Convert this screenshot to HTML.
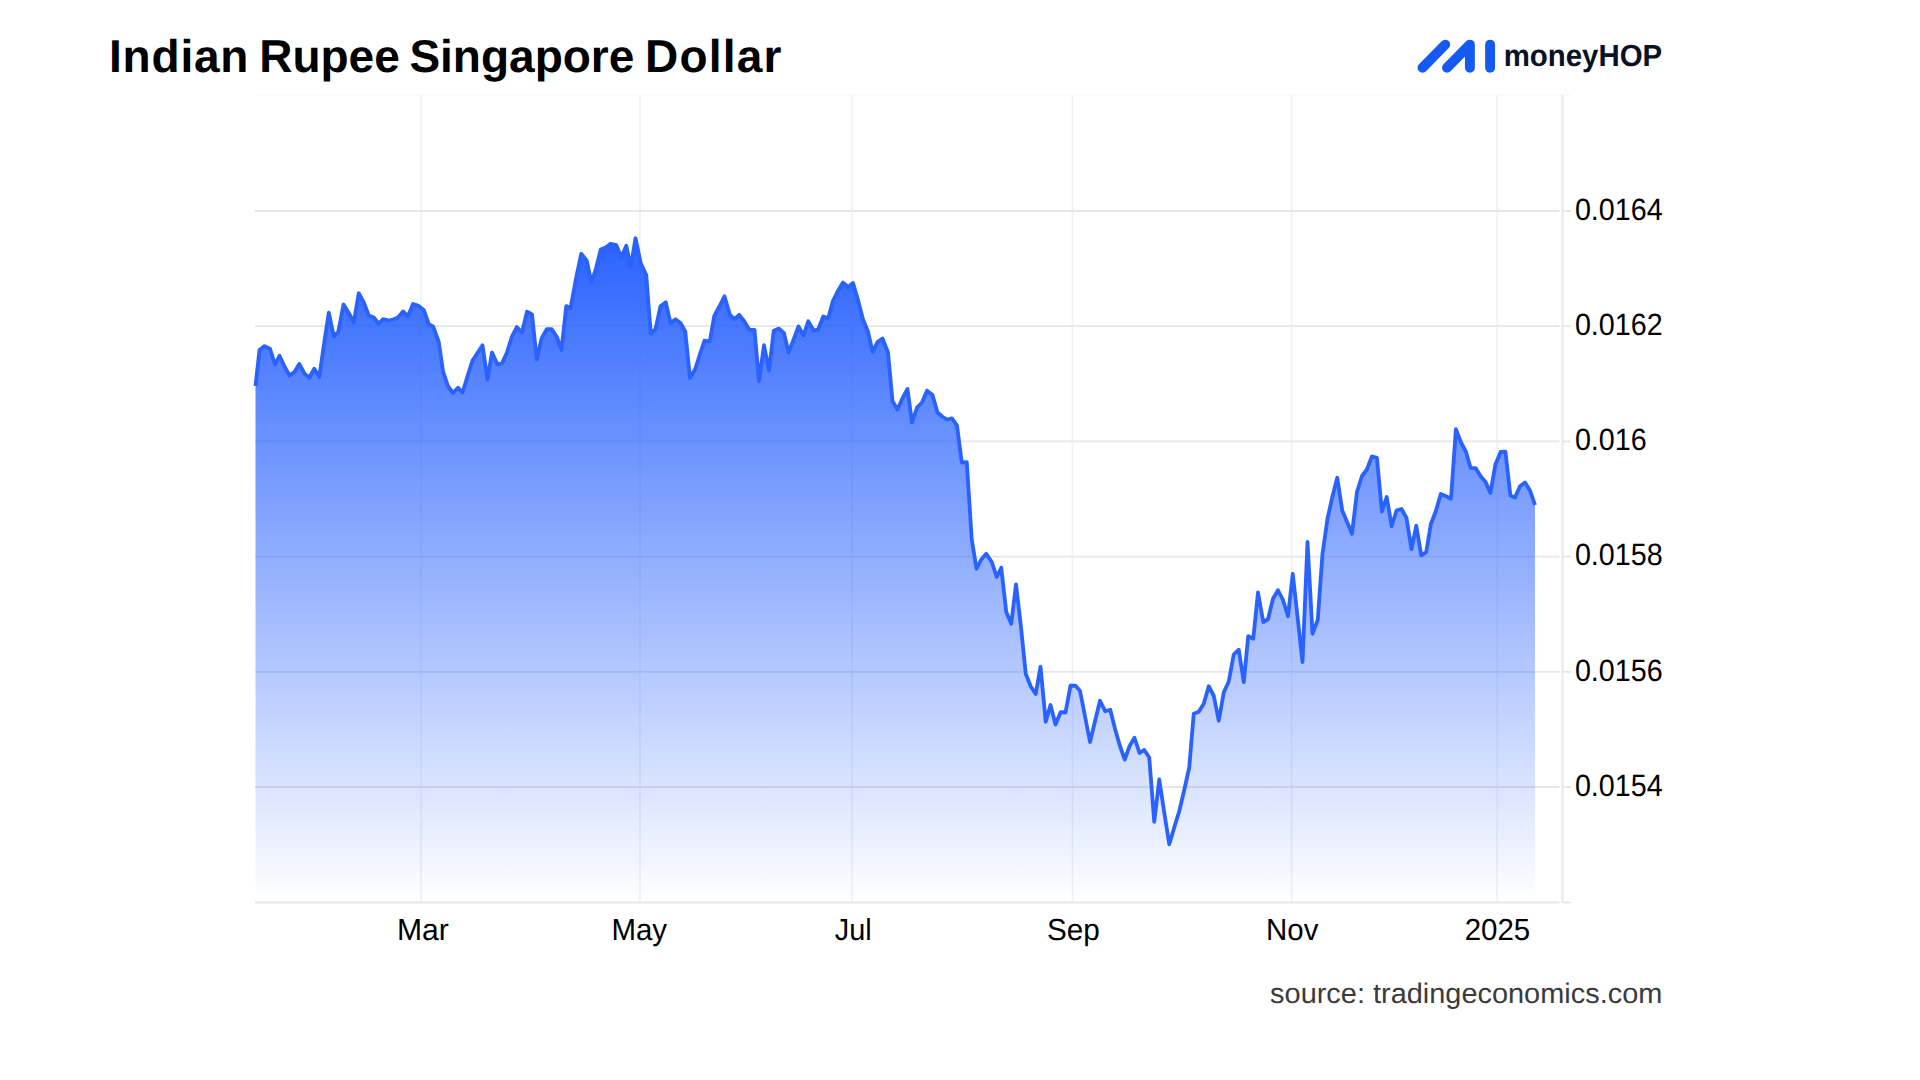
<!DOCTYPE html>
<html lang="en"><head><meta charset="utf-8"><title>Indian Rupee Singapore Dollar</title>
<style>
html,body{margin:0;padding:0;background:#fff;}
body{width:1920px;height:1080px;overflow:hidden;font-family:"Liberation Sans",Arial,sans-serif;}
svg{display:block;position:absolute;left:0;top:0;}
text{text-rendering:geometricPrecision;}
</style></head><body>
<svg width="1920" height="1080" viewBox="0 0 1920 1080">
<defs><linearGradient id="g" x1="0" y1="237" x2="0" y2="902" gradientUnits="userSpaceOnUse"><stop offset="0" stop-color="#2962ff" stop-opacity="1"/><stop offset="1" stop-color="#2962ff" stop-opacity="0"/></linearGradient></defs>
<line x1="421.2" y1="95" x2="421.2" y2="902" stroke="#ecf1f7" stroke-width="1.6"/>
<line x1="640" y1="95" x2="640" y2="902" stroke="#ecf1f7" stroke-width="1.6"/>
<line x1="851.8" y1="95" x2="851.8" y2="902" stroke="#ecf1f7" stroke-width="1.6"/>
<line x1="1072.5" y1="95" x2="1072.5" y2="902" stroke="#ecf1f7" stroke-width="1.6"/>
<line x1="1291.6" y1="95" x2="1291.6" y2="902" stroke="#ecf1f7" stroke-width="1.6"/>
<line x1="1497.2" y1="95" x2="1497.2" y2="902" stroke="#ecf1f7" stroke-width="1.6"/>
<line x1="255" y1="211" x2="1559.5" y2="211" stroke="#e6e6e6" stroke-width="1.8"/>
<line x1="1563" y1="211" x2="1571" y2="211" stroke="#e6e6e6" stroke-width="1.8"/>
<line x1="255" y1="326.2" x2="1559.5" y2="326.2" stroke="#e6e6e6" stroke-width="1.8"/>
<line x1="1563" y1="326.2" x2="1571" y2="326.2" stroke="#e6e6e6" stroke-width="1.8"/>
<line x1="255" y1="441.4" x2="1559.5" y2="441.4" stroke="#e6e6e6" stroke-width="1.8"/>
<line x1="1563" y1="441.4" x2="1571" y2="441.4" stroke="#e6e6e6" stroke-width="1.8"/>
<line x1="255" y1="556.6" x2="1559.5" y2="556.6" stroke="#e6e6e6" stroke-width="1.8"/>
<line x1="1563" y1="556.6" x2="1571" y2="556.6" stroke="#e6e6e6" stroke-width="1.8"/>
<line x1="255" y1="671.8" x2="1559.5" y2="671.8" stroke="#e6e6e6" stroke-width="1.8"/>
<line x1="1563" y1="671.8" x2="1571" y2="671.8" stroke="#e6e6e6" stroke-width="1.8"/>
<line x1="255" y1="787" x2="1559.5" y2="787" stroke="#e6e6e6" stroke-width="1.8"/>
<line x1="1563" y1="787" x2="1571" y2="787" stroke="#e6e6e6" stroke-width="1.8"/>
<line x1="255" y1="94.6" x2="1571" y2="94.6" stroke="#f8f8f8" stroke-width="1.2"/>
<line x1="255" y1="902.5" x2="1559.5" y2="902.5" stroke="#e6e6e6" stroke-width="1.8"/>
<line x1="1563" y1="902.5" x2="1571" y2="902.5" stroke="#e6e6e6" stroke-width="1.8"/>
<line x1="1562.5" y1="95" x2="1562.5" y2="903" stroke="#e6e6e6" stroke-width="1.8"/>
<path d="M255.5,386 L259.5,350 L264.5,346.12 L270,348.75 L275,364.5 L279.5,355.75 L285,367.5 L289.5,375.5 L294.5,372 L299.25,364 L304.5,373.75 L309.5,377.5 L314.25,368.75 L319.25,377 L324.25,342.5 L328.75,312.75 L333.75,336.25 L338.25,332 L343.5,304.5 L348.75,313 L353.75,322.5 L358.75,293.25 L363.75,302.5 L368.75,315.5 L373.75,317.5 L378.75,323.75 L383.25,319.19 L388.75,320.5 L393,319.5 L398,317.5 L403,311.44 L408,316.25 L413,303.97 L418,305.5 L423.75,310 L428.75,324.25 L433.25,326.75 L438.75,342 L443,371.25 L448,386.25 L453,393 L458,387.69 L462.5,392.5 L467.5,376.25 L472.5,360.5 L477.5,353 L482.5,345.25 L487.5,379.5 L492,352.5 L497.5,364.5 L502,363.25 L506.75,353 L511.75,337 L516.75,327 L522,332.5 L527,311.66 L532,314.5 L536.75,359.5 L541.75,338 L546.75,329.25 L551.75,329.25 L556.75,336.75 L561.5,350 L566.25,306.06 L570.5,308.25 L576.25,277.5 L581.25,253.75 L586.75,260.75 L591.25,282.5 L595.5,270.5 L600.75,249.5 L605.5,247.5 L610.5,243.91 L616.25,245 L621.25,257.5 L626.25,245.75 L630.75,267 L635.5,238.25 L640.75,263.25 L646.25,275 L650.75,333.75 L655.5,329.25 L660.5,306.25 L665.75,302.31 L670.5,323 L675.5,319.28 L680.5,323 L685.25,331.5 L690,378 L695.25,369 L700,354 L704.5,340.62 L709.75,341.5 L714.25,316 L719.5,306.25 L724.5,296.25 L730,315 L734.5,319.25 L739.25,314.88 L744.5,321.75 L749.5,330 L754.5,330 L759,381.25 L764,345.25 L769,370.5 L773.75,330.75 L779,328.56 L784,333.25 L788.5,352.5 L793.75,339.25 L798.5,326.5 L803.5,335.5 L808.25,321.25 L813.75,330.75 L818.25,329.25 L823.25,316.5 L828.25,318.25 L833,300.75 L838,290.75 L843,282.62 L848,287 L853,283.06 L858,300 L863,319.5 L868,331.75 L872.5,351.75 L877.5,342 L882.5,338.5 L888,352.5 L892.5,401.25 L897.5,409.5 L902.5,398.25 L907.5,389 L912,422.5 L917,407.5 L922,402.5 L927,390.62 L932.5,395 L937.5,412.5 L942.5,416.75 L947,419.5 L952,418.41 L957,425.5 L961.75,462.5 L966.75,462.06 L971.75,539.5 L976.5,568.75 L981.25,559.5 L986.25,553.75 L991.75,562 L996.75,577 L1001.25,567.75 L1006.25,612 L1011.25,623.75 L1016,584.5 L1020.75,625 L1025.75,673.75 L1030.75,686.5 L1035.75,694 L1040.5,666.75 L1045.75,721.75 L1050.5,705 L1055.5,724.5 L1060.75,712.06 L1065.5,712.5 L1070.5,685.53 L1075.5,685.75 L1080,690.75 L1085,716.25 L1090,742 L1095,721.25 L1100,700.75 L1105.25,711.25 L1110.25,709.72 L1115,728.75 L1120,746.25 L1124.75,759.5 L1129.5,746.25 L1134.5,737.75 L1139.5,753 L1144.25,749.94 L1149.25,757.5 L1154.25,821.75 L1159.25,779.5 L1164.25,812.5 L1169.25,844.25 L1174.25,827.5 L1179.25,811.25 L1184.25,790 L1189.25,767.5 L1193.75,713.75 L1198.75,711.75 L1203.75,703.75 L1208.75,686.25 L1213.75,695.75 L1218.75,720.75 L1223.75,692.5 L1228.75,681.5 L1233.75,654.5 L1238.75,649.69 L1243.75,682 L1248.25,636.12 L1253.25,638.75 L1258,592.5 L1263.25,622 L1268,619.25 L1273,598.75 L1278,590.25 L1283,600 L1288,616.25 L1292.75,574 L1297.75,618.75 L1302.5,662 L1307.5,542 L1312.5,633.75 L1317.75,620 L1322.5,553.75 L1327.5,518.75 L1332.5,496.25 L1337.25,477.75 L1342.25,510.5 L1347.25,522.5 L1352,533.75 L1357,491.75 L1362,476 L1366.9,469.5 L1371.9,456.44 L1376.9,457.75 L1381.9,511.5 L1386.7,497 L1391.7,526.25 L1396.5,510.5 L1401.5,508.97 L1406.5,518 L1411.5,549.2 L1416.3,525.75 L1421.25,555.4 L1426.25,552.1 L1430.8,524.2 L1435.8,511.25 L1440.8,494.06 L1446,496.25 L1451,498.75 L1455.9,429.25 L1461,442.5 L1466,451.9 L1470.6,468.1 L1475.6,468.1 L1480.6,476.25 L1485.6,481.9 L1490.4,493.1 L1495.4,464.4 L1500.6,451.9 L1505.4,451.55 L1510.4,495.6 L1515,497.5 L1520,486.25 L1525,482.44 L1530,490.6 L1535,505 L1535,902 L255.5,902 Z" fill="url(#g)"/>
<path d="M255.5,386 L259.5,350 L264.5,346.12 L270,348.75 L275,364.5 L279.5,355.75 L285,367.5 L289.5,375.5 L294.5,372 L299.25,364 L304.5,373.75 L309.5,377.5 L314.25,368.75 L319.25,377 L324.25,342.5 L328.75,312.75 L333.75,336.25 L338.25,332 L343.5,304.5 L348.75,313 L353.75,322.5 L358.75,293.25 L363.75,302.5 L368.75,315.5 L373.75,317.5 L378.75,323.75 L383.25,319.19 L388.75,320.5 L393,319.5 L398,317.5 L403,311.44 L408,316.25 L413,303.97 L418,305.5 L423.75,310 L428.75,324.25 L433.25,326.75 L438.75,342 L443,371.25 L448,386.25 L453,393 L458,387.69 L462.5,392.5 L467.5,376.25 L472.5,360.5 L477.5,353 L482.5,345.25 L487.5,379.5 L492,352.5 L497.5,364.5 L502,363.25 L506.75,353 L511.75,337 L516.75,327 L522,332.5 L527,311.66 L532,314.5 L536.75,359.5 L541.75,338 L546.75,329.25 L551.75,329.25 L556.75,336.75 L561.5,350 L566.25,306.06 L570.5,308.25 L576.25,277.5 L581.25,253.75 L586.75,260.75 L591.25,282.5 L595.5,270.5 L600.75,249.5 L605.5,247.5 L610.5,243.91 L616.25,245 L621.25,257.5 L626.25,245.75 L630.75,267 L635.5,238.25 L640.75,263.25 L646.25,275 L650.75,333.75 L655.5,329.25 L660.5,306.25 L665.75,302.31 L670.5,323 L675.5,319.28 L680.5,323 L685.25,331.5 L690,378 L695.25,369 L700,354 L704.5,340.62 L709.75,341.5 L714.25,316 L719.5,306.25 L724.5,296.25 L730,315 L734.5,319.25 L739.25,314.88 L744.5,321.75 L749.5,330 L754.5,330 L759,381.25 L764,345.25 L769,370.5 L773.75,330.75 L779,328.56 L784,333.25 L788.5,352.5 L793.75,339.25 L798.5,326.5 L803.5,335.5 L808.25,321.25 L813.75,330.75 L818.25,329.25 L823.25,316.5 L828.25,318.25 L833,300.75 L838,290.75 L843,282.62 L848,287 L853,283.06 L858,300 L863,319.5 L868,331.75 L872.5,351.75 L877.5,342 L882.5,338.5 L888,352.5 L892.5,401.25 L897.5,409.5 L902.5,398.25 L907.5,389 L912,422.5 L917,407.5 L922,402.5 L927,390.62 L932.5,395 L937.5,412.5 L942.5,416.75 L947,419.5 L952,418.41 L957,425.5 L961.75,462.5 L966.75,462.06 L971.75,539.5 L976.5,568.75 L981.25,559.5 L986.25,553.75 L991.75,562 L996.75,577 L1001.25,567.75 L1006.25,612 L1011.25,623.75 L1016,584.5 L1020.75,625 L1025.75,673.75 L1030.75,686.5 L1035.75,694 L1040.5,666.75 L1045.75,721.75 L1050.5,705 L1055.5,724.5 L1060.75,712.06 L1065.5,712.5 L1070.5,685.53 L1075.5,685.75 L1080,690.75 L1085,716.25 L1090,742 L1095,721.25 L1100,700.75 L1105.25,711.25 L1110.25,709.72 L1115,728.75 L1120,746.25 L1124.75,759.5 L1129.5,746.25 L1134.5,737.75 L1139.5,753 L1144.25,749.94 L1149.25,757.5 L1154.25,821.75 L1159.25,779.5 L1164.25,812.5 L1169.25,844.25 L1174.25,827.5 L1179.25,811.25 L1184.25,790 L1189.25,767.5 L1193.75,713.75 L1198.75,711.75 L1203.75,703.75 L1208.75,686.25 L1213.75,695.75 L1218.75,720.75 L1223.75,692.5 L1228.75,681.5 L1233.75,654.5 L1238.75,649.69 L1243.75,682 L1248.25,636.12 L1253.25,638.75 L1258,592.5 L1263.25,622 L1268,619.25 L1273,598.75 L1278,590.25 L1283,600 L1288,616.25 L1292.75,574 L1297.75,618.75 L1302.5,662 L1307.5,542 L1312.5,633.75 L1317.75,620 L1322.5,553.75 L1327.5,518.75 L1332.5,496.25 L1337.25,477.75 L1342.25,510.5 L1347.25,522.5 L1352,533.75 L1357,491.75 L1362,476 L1366.9,469.5 L1371.9,456.44 L1376.9,457.75 L1381.9,511.5 L1386.7,497 L1391.7,526.25 L1396.5,510.5 L1401.5,508.97 L1406.5,518 L1411.5,549.2 L1416.3,525.75 L1421.25,555.4 L1426.25,552.1 L1430.8,524.2 L1435.8,511.25 L1440.8,494.06 L1446,496.25 L1451,498.75 L1455.9,429.25 L1461,442.5 L1466,451.9 L1470.6,468.1 L1475.6,468.1 L1480.6,476.25 L1485.6,481.9 L1490.4,493.1 L1495.4,464.4 L1500.6,451.9 L1505.4,451.55 L1510.4,495.6 L1515,497.5 L1520,486.25 L1525,482.44 L1530,490.6 L1535,505" fill="none" stroke="#2962ff" stroke-width="3.8" stroke-linejoin="round" stroke-linecap="butt"/>
<g font-family="'Liberation Sans', Arial, sans-serif" fill="#000">
<text transform="translate(1574.9,219.7) scale(0.9320,1)" font-size="30.8">0.0164</text>
<text transform="translate(1574.9,334.9) scale(0.9320,1)" font-size="30.8">0.0162</text>
<text transform="translate(1574.9,450.1) scale(0.9320,1)" font-size="30.8">0.016</text>
<text transform="translate(1574.9,565.3) scale(0.9320,1)" font-size="30.8">0.0158</text>
<text transform="translate(1574.9,680.5) scale(0.9320,1)" font-size="30.8">0.0156</text>
<text transform="translate(1574.9,795.7) scale(0.9320,1)" font-size="30.8">0.0154</text>
<text transform="translate(396.9,940.4) scale(0.9909,1)" font-size="30.4">Mar</text>
<text transform="translate(611.4,940.4) scale(0.9696,1)" font-size="30.4">May</text>
<text transform="translate(834.7,940.4) scale(0.9504,1)" font-size="30.4">Jul</text>
<text transform="translate(1046.9,940.4) scale(0.9766,1)" font-size="30.4">Sep</text>
<text transform="translate(1266.1,940.4) scale(0.9675,1)" font-size="30.4">Nov</text>
<text transform="translate(1464.7,940.4) scale(0.9696,1)" font-size="30.4">2025</text>
</g>
<text transform="translate(1270.1,1003.3) scale(1.0187,1)" font-family="'Liberation Sans', Arial, sans-serif" font-size="28.4" fill="#3b3b3b">source: tradingeconomics.com</text>
<g fill="none" stroke="#145af1" stroke-width="9.9" stroke-linecap="round" stroke-linejoin="round"><path d="M1422.5,67.8 L1445.2,44.6"/><path d="M1447,67.8 L1469.9,44.6 L1469.9,67.8"/><path d="M1490.1,44.6 L1490.1,67.8"/></g>
<text y="71.5" font-family="'Liberation Sans', Arial, sans-serif" font-weight="700" font-size="46.0" fill="#000"><tspan x="109" letter-spacing="0.8">Indian</tspan> <tspan x="259.2" letter-spacing="0">Rupee</tspan> <tspan x="409.4" letter-spacing="0">Singapore</tspan> <tspan x="645" letter-spacing="1.2">Dollar</tspan></text>
<text transform="translate(1503.66,65.5) scale(0.9614,1)" font-family="'Liberation Sans', Arial, sans-serif" font-weight="700" font-size="30.6" fill="#0a1224">moneyHOP</text>
</svg>
</body></html>
